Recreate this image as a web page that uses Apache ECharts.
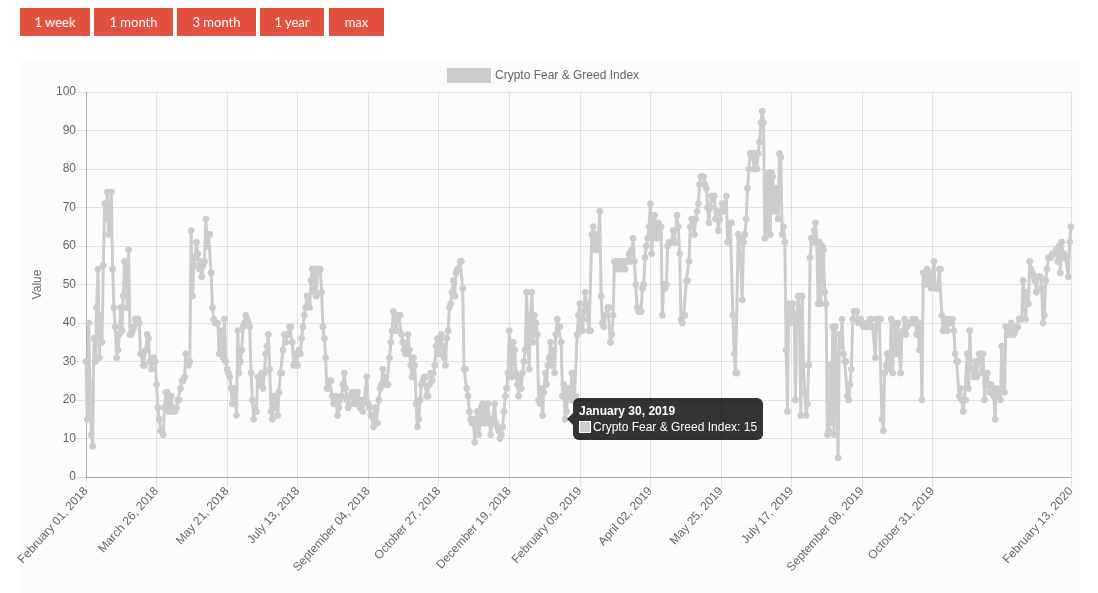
<!DOCTYPE html>
<html>
<head>
<meta charset="utf-8">
<script src="https://cdn.jsdelivr.net/npm/echarts@6/dist/echarts.min.js"></script>
<style>
html,body{margin:0;padding:0;background:#fff;}
#panel{position:absolute;left:20px;top:60px;width:1060px;height:533px;background:#fcfcfc;}
#chart{position:absolute;left:0;top:0;width:1098px;height:593px;}
#btns{position:absolute;left:0;top:0;z-index:5;font-family:Lato,"Open Sans",Arial,sans-serif;}
.btn{position:absolute;top:8px;height:28px;line-height:28px;background:#e2513f;color:#fff;font-size:13px;text-align:center;}
</style>
</head>
<body>
<div id="panel"></div>
<div id="chart"></div>
<div id="btns"></div>
<script>
// ---------- data ----------
const SERIES_NAME = 'Crypto Fear & Greed Index';
const buttonLabels = ['1 week', '1 month', '3 month', '1 year', 'max'];
const monthNames = ['January','February','March','April','May','June','July','August','September','October','November','December'];
const startDate = '2018-02-01';
const endDate = '2020-02-13';
const missingDates = ['2018-04-14', '2018-04-15', '2018-04-16', '2019-12-31'];
const repeatedDates = ['2019-02-04', '2019-03-10'];

// daily values, in blocks of 53 entries
const seg0 = [30,15,40,24,11,8,36,30,44,54,31,42,35,55,71,67,74,63,67,74,54,44,39,31,33,37,44,38,47,56,55,44,59,37,37,38,39,41,41,41,40,32,32,29,29,33,37,36,30,28,30,31,30];
const seg1 = [24,18,15,12,12,11,18,22,22,17,20,21,17,18,17,18,20,20,23,25,25,26,32,30,29,30,64,47,55,57,61,58,54,56,52,55,56,67,60,63,63,53,44,41,40,40,40,32,38,32,31,41,30];
const seg2 = [28,27,26,23,19,21,23,16,38,27,30,33,39,40,42,41,40,39,27,20,15,18,17,26,24,26,27,23,27,32,34,37,28,17,15,21,18,21,16,22,27,27,33,37,35,37,37,39,39,35,29,32,29];
const seg3 = [29,33,32,36,39,42,44,47,45,44,51,54,48,54,47,54,54,54,48,39,36,31,23,23,25,25,21,19,20,21,16,18,20,21,24,27,23,20,18,21,21,22,19,22,19,22,20,18,20,17,20,20,26];
const seg4 = [19,18,16,16,13,18,14,14,20,23,24,28,24,26,24,24,31,35,38,43,40,38,41,42,42,37,35,33,32,32,37,33,29,26,31,29,19,13,15,20,24,25,26,26,21,21,24,27,25,27,29,34,36];
const seg5 = [32,32,37,34,31,29,36,38,44,45,48,51,47,53,54,54,56,56,49,28,28,23,21,17,15,14,15,9,14,17,11,14,18,19,14,18,14,19,15,11,14,14,19,14,13,12,10,11,13,17,21,23,27];
const seg6 = [38,32,26,35,33,27,24,21,26,23,27,30,33,48,35,28,42,48,35,42,40,37,20,19,23,16,22,27,24,29,31,35,29,33,27,37,41,39,39,35,21,24,15,17,22,23,20,27,20,21,21,37,42];
const seg7 = [45,39,38,43,48,45,41,38,38,63,65,59,63,59,62,69,47,40,39,42,42,44,44,35,37,42,56,54,56,54,56,54,56,54,54,56,56,58,56,59,62,56,50,44,43,43,43,49,50,57,60,62,65];
const seg8 = [71,58,63,68,66,62,66,63,65,42,50,49,50,60,61,61,61,64,61,61,68,65,58,41,40,42,42,51,51,56,65,67,65,63,67,69,71,76,78,78,78,76,75,70,66,70,73,72,73,67,69,64,67];
const seg9 = [69,71,69,71,73,61,61,66,66,42,32,27,27,63,62,62,46,61,63,67,75,80,84,83,84,80,84,80,84,87,92,95,92,62,78,64,79,63,79,78,69,75,74,67,84,83,63,65,61,33,17,45,40];
const seg10 = [42,45,42,20,42,47,42,16,47,29,22,16,19,29,57,62,61,64,66,61,45,61,45,60,59,48,45,11,12,29,14,39,11,39,25,5,37,34,41,32,30,30,21,20,24,28,41,43,43,43,40,41,41];
const seg11 = [40,39,39,39,40,39,41,41,39,39,31,41,39,41,41,15,12,27,29,32,32,28,41,27,40,37,32,40,32,27,37,38,41,37,39,40,40,40,41,40,41,37,40,33,40,20,53,50,53,54,50,53,49];
const seg12 = [52,56,49,49,49,54,54,42,38,41,41,38,41,40,40,41,38,32,30,30,21,23,20,17,20,20,32,23,38,28,28,26,30,26,30,32,32,27,32,20,24,27,24,22,24,23,21,15,23,21,22,20,34];
const seg13 = [25,22,39,37,37,39,40,37,37,38,39,39,41,41,41,51,46,41,48,45,56,54,53,52,51,48,52,52,52,49,40,42,51,54,57,57,57,58,58,58,59,56,60,53,61,57,58,57,57,52,61,65];

const yMin = 0, yMax = 100, yStep = 10;
const LABEL_STEP = 53;
const tooltipDate = 'January 30, 2019';

// ---------- build ----------
const values = [].concat(seg0, seg1, seg2, seg3, seg4, seg5, seg6, seg7, seg8, seg9, seg10, seg11, seg12, seg13);

function iso(d) {
  return d.getUTCFullYear() + '-' + String(d.getUTCMonth() + 1).padStart(2, '0') + '-' + String(d.getUTCDate()).padStart(2, '0');
}
function pretty(d) {
  return monthNames[d.getUTCMonth()] + ' ' + String(d.getUTCDate()).padStart(2, '0') + ', ' + d.getUTCFullYear();
}
function buildCategories() {
  const out = [];
  const d = new Date(startDate + 'T00:00:00Z');
  const end = new Date(endDate + 'T00:00:00Z');
  while (d <= end) {
    const k = iso(d);
    if (missingDates.indexOf(k) < 0) {
      out.push(pretty(d));
      if (repeatedDates.indexOf(k) >= 0) out.push(pretty(d));
    }
    d.setUTCDate(d.getUTCDate() + 1);
  }
  return out;
}
const categories = buildCategories();
const lastIdx = categories.length - 1;
function showTick(i) {
  return (i % LABEL_STEP === 0 && i + LABEL_STEP < categories.length) || i === lastIdx;
}

// buttons
const btnBox = document.getElementById('btns');
const btnLeft = [20, 94, 177, 260, 329];
const btnWidth = [70, 79, 79, 64, 55];
buttonLabels.forEach(function (t, i) {
  const b = document.createElement('div');
  b.className = 'btn';
  b.style.left = btnLeft[i] + 'px';
  b.style.width = btnWidth[i] + 'px';
  b.textContent = t;
  btnBox.appendChild(b);
});

const gridColor = 'rgba(0,0,0,0.1)';
const zeroColor = 'rgba(0,0,0,0.25)';
const FONT = 'Arial, "Liberation Sans", Helvetica, sans-serif';
const lineColor = '#cccccc';

const chart = echarts.init(document.getElementById('chart'));
const option = {
  animation: false,
  backgroundColor: 'transparent',
  textStyle: { fontFamily: FONT },
  grid: { left: 86, right: 27, top: 92, bottom: 116, containLabel: false, outerBoundsMode: 'none' },
  legend: {
    left: 447, top: 68, padding: 0, itemWidth: 42, itemHeight: 13, icon: 'rect', selectedMode: false,
    textStyle: { color: '#666', fontSize: 12, fontFamily: FONT },
    data: [{ name: SERIES_NAME, itemStyle: { color: lineColor } }]
  },
  tooltip: {
    trigger: 'item', triggerOn: 'none', alwaysShowContent: true, showContent: true,
    backgroundColor: 'rgba(0,0,0,0.8)', borderWidth: 0, padding: [6, 6, 6, 6],
    textStyle: { color: '#fff', fontSize: 12, fontFamily: FONT },
    extraCssText: 'border-radius:6px;box-shadow:none;',
    transitionDuration: 0,
    position: function (point, params, dom, rect, size) {
      return [point[0] + 8, point[1] - size.contentSize[1] / 2];
    },
    formatter: function (p) {
      return '<div style="position:absolute;left:-6px;top:50%;margin-top:-6px;width:0;height:0;border-top:6px solid transparent;border-bottom:6px solid transparent;border-right:6px solid rgba(0,0,0,0.8);"></div>' +
        '<div style="font-weight:bold;line-height:14px;margin-bottom:2px;white-space:nowrap;">' + p.name + '</div>' +
        '<div style="line-height:14px;white-space:nowrap;"><span style="display:inline-block;width:10px;height:10px;background:' + lineColor + ';border:1px solid #fff;vertical-align:-2px;margin-right:2px;"></span>' +
        p.seriesName + ': ' + p.value + '</div>';
    }
  },
  xAxis: {
    type: 'category', data: categories, boundaryGap: false,
    axisLine: { show: true, lineStyle: { color: zeroColor, width: 1 } },
    axisTick: { show: true, interval: showTick, length: 10, lineStyle: { color: gridColor } },
    axisLabel: { interval: showTick, rotate: 48, margin: 12, color: '#666', fontSize: 12, hideOverlap: false, fontFamily: FONT },
    splitLine: { show: true, interval: showTick, lineStyle: { color: gridColor, width: 1 } }
  },
  yAxis: {
    type: 'value', min: yMin, max: yMax, interval: yStep,
    name: 'Value', nameLocation: 'middle', nameGap: 42, nameRotate: 90,
    nameTextStyle: { color: '#666', fontSize: 12, fontFamily: FONT },
    axisLine: { show: true, lineStyle: { color: zeroColor, width: 1 } },
    axisTick: { show: true, length: 10, lineStyle: { color: gridColor } },
    axisLabel: { margin: 10, color: '#666', fontSize: 12, fontFamily: FONT },
    splitLine: { show: true, lineStyle: { color: gridColor, width: 1 } }
  },
  series: [{
    type: 'line', name: SERIES_NAME, data: values,
    showSymbol: true, showAllSymbol: true, symbol: 'circle', symbolSize: 6,
    lineStyle: { color: lineColor, width: 3 },
    itemStyle: { color: lineColor, borderColor: lineColor, borderWidth: 1 },
    emphasis: { scale: false },
    z: 2
  }]
};
chart.setOption(option);
const tipIndex = categories.indexOf(tooltipDate);
function showTip() {
  chart.dispatchAction({ type: 'showTip', seriesIndex: 0, dataIndex: tipIndex });
}
showTip();
setTimeout(showTip, 50);
</script>
</body>
</html>
